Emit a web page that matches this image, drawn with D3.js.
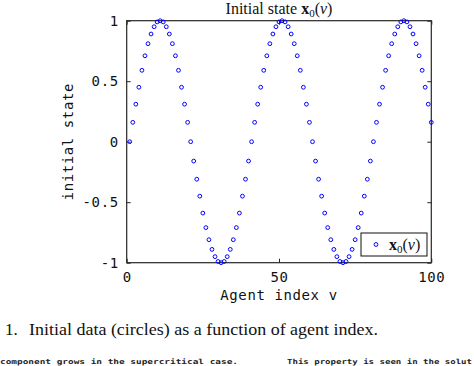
<!DOCTYPE html>
<html><head><meta charset="utf-8">
<script src="https://cdn.jsdelivr.net/npm/d3@7"></script>
<style>html,body{margin:0;padding:0;background:#fff;overflow:hidden}</style>
</head><body>
<svg id="c" width="474" height="366"></svg>
<script>
const agents = [1,2,3,4,5,6,7,8,9,10,11,12,13,14,15,16,17,18,19,20,21,22,23,24,25,26,27,28,29,30,31,32,33,34,35,36,37,38,39,40,41,42,43,44,45,46,47,48,49,50,51,52,53,54,55,56,57,58,59,60,61,62,63,64,65,66,67,68,69,70,71,72,73,74,75,76,77,78,79,80,81,82,83,84,85,86,87,88,89,90,91,92,93,94,95,96,97,98,99,100];
const initialState = [
 0,0.16,0.31,0.45,0.59,0.71,0.81,0.89,0.95,0.99,1,0.99,0.95,0.89,0.81,0.71,0.59,0.45,0.31,0.16,
 0,-0.16,-0.31,-0.45,-0.59,-0.71,-0.81,-0.89,-0.95,-0.99,-1,-0.99,-0.95,-0.89,-0.81,-0.71,-0.59,-0.45,-0.31,-0.16,
 0,0.16,0.31,0.45,0.59,0.71,0.81,0.89,0.95,0.99,1,0.99,0.95,0.89,0.81,0.71,0.59,0.45,0.31,0.16,
 0,-0.16,-0.31,-0.45,-0.59,-0.71,-0.81,-0.89,-0.95,-0.99,-1,-0.99,-0.95,-0.89,-0.81,-0.71,-0.59,-0.45,-0.31,-0.16,
 0,0.16,0.31,0.45,0.59,0.71,0.81,0.89,0.95,0.99,1,0.99,0.95,0.89,0.81,0.71,0.59,0.45,0.31,0.16];
const xTicks = [0,50,100];
const xTickLabels = ["0","50","100"];
const yTicks = [1,0.5,0,-0.5,-1];
const yTickLabels = ["1","0.5","0","-0.5","-1"];

const svg = d3.select("#c");
const L=126.7, R=431.3, T=20.7, B=262.7;
const x = d3.scaleLinear().domain([0,100]).range([L,R]);
const y = d3.scaleLinear().domain([-1,1]).range([B,T]);
const mono = "'DejaVu Sans Mono', monospace";
const axisCol = "#262626";

// frame
svg.append("rect").attr("x",L).attr("y",T).attr("width",R-L).attr("height",B-T)
  .attr("fill","none").attr("stroke",axisCol).attr("stroke-width",1.2);

// axes with inward ticks
const gxB = svg.append("g").attr("transform",`translate(0,${B})`)
  .call(d3.axisBottom(x).tickValues(xTicks).tickFormat((d,i)=>xTickLabels[i]).tickSizeInner(-4).tickSizeOuter(0).tickPadding(9));
const gxT = svg.append("g").attr("transform",`translate(0,${T})`)
  .call(d3.axisTop(x).tickValues(xTicks).tickFormat("").tickSizeInner(-4).tickSizeOuter(0));
const gyL = svg.append("g").attr("transform",`translate(${L},0)`)
  .call(d3.axisLeft(y).tickValues(yTicks).tickFormat((d,i)=>yTickLabels[i]).tickSizeInner(-4).tickSizeOuter(0).tickPadding(8));
const gyR = svg.append("g").attr("transform",`translate(${R},0)`)
  .call(d3.axisRight(y).tickValues(yTicks).tickFormat("").tickSizeInner(-4).tickSizeOuter(0));
[gxB,gxT,gyL,gyR].forEach(g=>{
  g.select(".domain").remove();
  g.selectAll(".tick line").attr("stroke",axisCol).attr("stroke-width",1);
  g.selectAll("text").attr("font-family",mono).attr("font-size",14).attr("fill","#111").attr("letter-spacing","0.6px");
});

// points
svg.append("g").selectAll("circle").data(agents).join("circle")
  .attr("cx",(d)=>x(d)).attr("cy",(d,i)=>y(initialState[i])).attr("r",1.9)
  .attr("fill","none").attr("stroke","#0000ff").attr("stroke-width",1);

// labels
svg.append("text").attr("x",(L+R)/2).attr("y",300).attr("text-anchor","middle")
  .attr("font-family",mono).attr("font-size",14).attr("letter-spacing","0.6px").attr("fill","#111").text("Agent index v");
svg.append("text").attr("transform",`translate(73,${(T+B)/2}) rotate(-90)`).attr("text-anchor","middle")
  .attr("font-family",mono).attr("font-size",14).attr("letter-spacing","0.6px").attr("fill","#111").text("initial state");

// title
const serif = "'Liberation Serif','DejaVu Serif',serif";
const title = svg.append("text").attr("x",(L+R)/2).attr("y",14).attr("text-anchor","middle")
  .attr("font-family",serif).attr("font-size",16).attr("fill","#111");
title.append("tspan").text("Initial state ");
title.append("tspan").attr("font-weight","bold").text("x");
title.append("tspan").attr("font-size",11).attr("dy",3).text("0");
title.append("tspan").attr("dy",-3).text("(");
title.append("tspan").attr("font-style","italic").text("v");
title.append("tspan").text(")");

// legend
svg.append("rect").attr("x",361).attr("y",233).attr("width",66).attr("height",23)
  .attr("fill","#fff").attr("stroke","#111").attr("stroke-width",1);
svg.append("circle").attr("cx",376).attr("cy",244.5).attr("r",1.9).attr("fill","none").attr("stroke","#0000ff").attr("stroke-width",1);
const lt = svg.append("text").attr("x",389).attr("y",250).attr("font-family",serif).attr("font-size",16).attr("fill","#111");
lt.append("tspan").attr("font-weight","bold").text("x");
lt.append("tspan").attr("font-size",11).attr("dy",3).text("0");
lt.append("tspan").attr("dy",-3).text("(");
lt.append("tspan").attr("font-style","italic").text("v");
lt.append("tspan").text(")");

// caption
svg.append("text").attr("x",5).attr("y",335).attr("font-family",serif).attr("font-size",17).attr("fill","#111")
  .text("1.");
svg.append("text").attr("x",29).attr("y",335).attr("font-family",serif).attr("font-size",17).attr("fill","#111")
  .attr("textLength",349).attr("lengthAdjust","spacingAndGlyphs")
  .text("Initial data (circles) as a function of agent index.");

// small text lines at the bottom edge
svg.append("text").attr("x",0).attr("y",364).attr("font-family",mono).attr("font-size",7).attr("font-weight","bold").attr("fill","#222")
  .attr("textLength",238).attr("lengthAdjust","spacingAndGlyphs").text("component grows in the supercritical case.");
svg.append("text").attr("x",287).attr("y",364).attr("font-family",mono).attr("font-size",7).attr("font-weight","bold").attr("fill","#222")
  .attr("textLength",185).attr("lengthAdjust","spacingAndGlyphs").text("This property is seen in the solut");
</script>
</body></html>
